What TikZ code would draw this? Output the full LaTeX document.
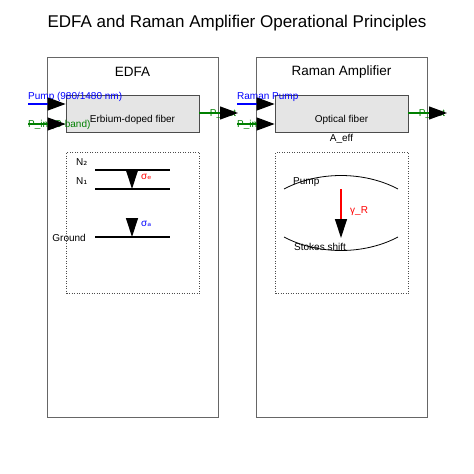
\documentclass[tikz,border=0pt]{standalone}
\usepackage{fontspec}
\setmainfont{Liberation Sans}
\newfontfamily\subfont{DejaVu Sans}
\usetikzlibrary{arrows.meta,positioning}

\tikzset{
	panel/.style={draw=black!60, line width=1pt, minimum width=171pt, minimum height=360pt, inner sep=0pt},
	fiber/.style={draw=black!70, fill=black!10, line width=0.8pt, minimum width=133pt, minimum height=37pt, inner sep=0pt},
	levelbox/.style={draw=black!70, dash pattern=on 1pt off 1.5pt, line width=1pt, minimum width=133pt, minimum height=141pt, inner sep=0pt},
	flow/.style={line width=1.2pt, -{Triangle[length=18pt,width=13pt,color=black]}},
	trans/.style={line width=1.2pt, -{Triangle[length=19pt,width=12pt,color=black]}},
	level/.style={line width=1.4pt},
	txt/.style={font=\fontsize{10}{12}\selectfont, inner sep=0pt},
}

\begin{document}
\begin{tikzpicture}[x=1pt, y=-1pt]
		\useasboundingbox (0,0) rectangle (474,474);
		\node[font=\fontsize{17}{20}\selectfont] (title) at (237,23) {EDFA and Raman Amplifier Operational Principles};
		
		% EDFA
		\node[panel, anchor=north west] (edfa) at (47,57) {};
		\node[font=\fontsize{13.5}{16}\selectfont] (edfaT) at (132.5,72) {EDFA};
		\node[fiber] (erfib) at (132.5,113.5) {};
		\node[txt] (erfibT) at (132.5,120) {Erbium-doped fiber};
		\coordinate (pumpA) at (28,104);
		\coordinate (sigA) at (28,124);
		\coordinate (outA) at (238,113);
		\node[txt, blue, anchor=south west] (pumpAT) at (28,102) {Pump (980/1480 nm)};
		\node[txt, green!50!black, anchor=west] (sigAT) at (28,125) {P\_in (C-band)};
		\node[txt, green!50!black] (outAT) at (223,114) {P\_out};
		\draw[flow, blue] (pumpA) -- (erfib.west |- pumpA);
		\draw[flow, green!50!black] (sigA) -- (erfib.west |- sigA);
		\draw[flow, green!50!black] (erfib.east |- outA) -- (outA);
		
		\node[levelbox, anchor=north west] (edfaLv) at (66,152) {};
		\coordinate (nTwoL) at (95,170);
		\coordinate (nTwoR) at (170,170);
		\coordinate (nOneL) at (95,189);
		\coordinate (nOneR) at (170,189);
		\coordinate (gndL) at (95,237);
		\coordinate (gndR) at (170,237);
		\draw[level] (nTwoL) -- (nTwoR);
		\draw[level] (nOneL) -- (nOneR);
		\draw[level] (gndL) -- (gndR);
		\node[txt, anchor=west] (nTwoT) at (76,162) {N{\subfont ₂}};
		\node[txt, anchor=west] (nOneT) at (76,181) {N{\subfont ₁}};
		\node[txt, anchor=east] (gndT) at (86,238) {Ground};
		\coordinate (emiTop) at (132,170);
		\coordinate (emiBot) at (132,189);
		\coordinate (absTop) at (132,218);
		\coordinate (absBot) at (132,237);
		\draw[trans, red] (emiTop) -- (emiBot);
		\draw[trans, blue] (absTop) -- (absBot);
		\node[txt, red, anchor=west] (sigE) at (141,177) {σ{\subfont ₑ}};
		\node[txt, blue, anchor=west] (sigAb) at (141,224) {σ{\subfont ₐ}};
		
		% Raman
		\node[panel, anchor=north west] (raman) at (256,57) {};
		\node[font=\fontsize{13.5}{16}\selectfont] (ramanT) at (341.5,72) {Raman Amplifier};
		\node[fiber] (opfib) at (341.5,113.5) {};
		\node[txt] (opfibT) at (341.5,120) {Optical fiber};
		\node[txt] (aeff) at (341.5,139) {A\_eff};
		\coordinate (pumpB) at (237,104);
		\coordinate (sigB) at (237,124);
		\coordinate (outB) at (447,113);
		\node[txt, blue, anchor=south west] (pumpBT) at (237,102) {Raman Pump};
		\node[txt, green!50!black, anchor=west] (sigBT) at (237,125) {P\_in};
		\node[txt, green!50!black] (outBT) at (432,114) {P\_out};
		\draw[flow, blue] (pumpB) -- (opfib.west |- pumpB);
		\draw[flow, green!50!black] (sigB) -- (opfib.west |- sigB);
		\draw[flow, green!50!black] (opfib.east |- outB) -- (outB);
		
		\node[levelbox, anchor=north west] (ramanLv) at (275,152) {};
		\coordinate (pmpL) at (284,189);
		\coordinate (pmpR) at (398,189);
		\coordinate (stkL) at (284,237);
		\coordinate (stkR) at (398,237);
		\draw[line width=0.8pt] (pmpL) .. controls (318,171) and (364,171) .. (pmpR);
		\draw[line width=0.8pt] (stkL) .. controls (318,255) and (364,255) .. (stkR);
		\node[txt, anchor=west] (pmpT) at (293,182) {Pump};
		\node[txt, anchor=west] (stkT) at (294,247) {Stokes shift};
		\coordinate (gamTop) at (341,189);
		\coordinate (gamBot) at (341,238);
		\draw[trans, red] (gamTop) -- (gamBot);
		\node[txt, red, anchor=west] (gamT) at (350,211) {γ\_R};
\end{tikzpicture}
\end{document}
